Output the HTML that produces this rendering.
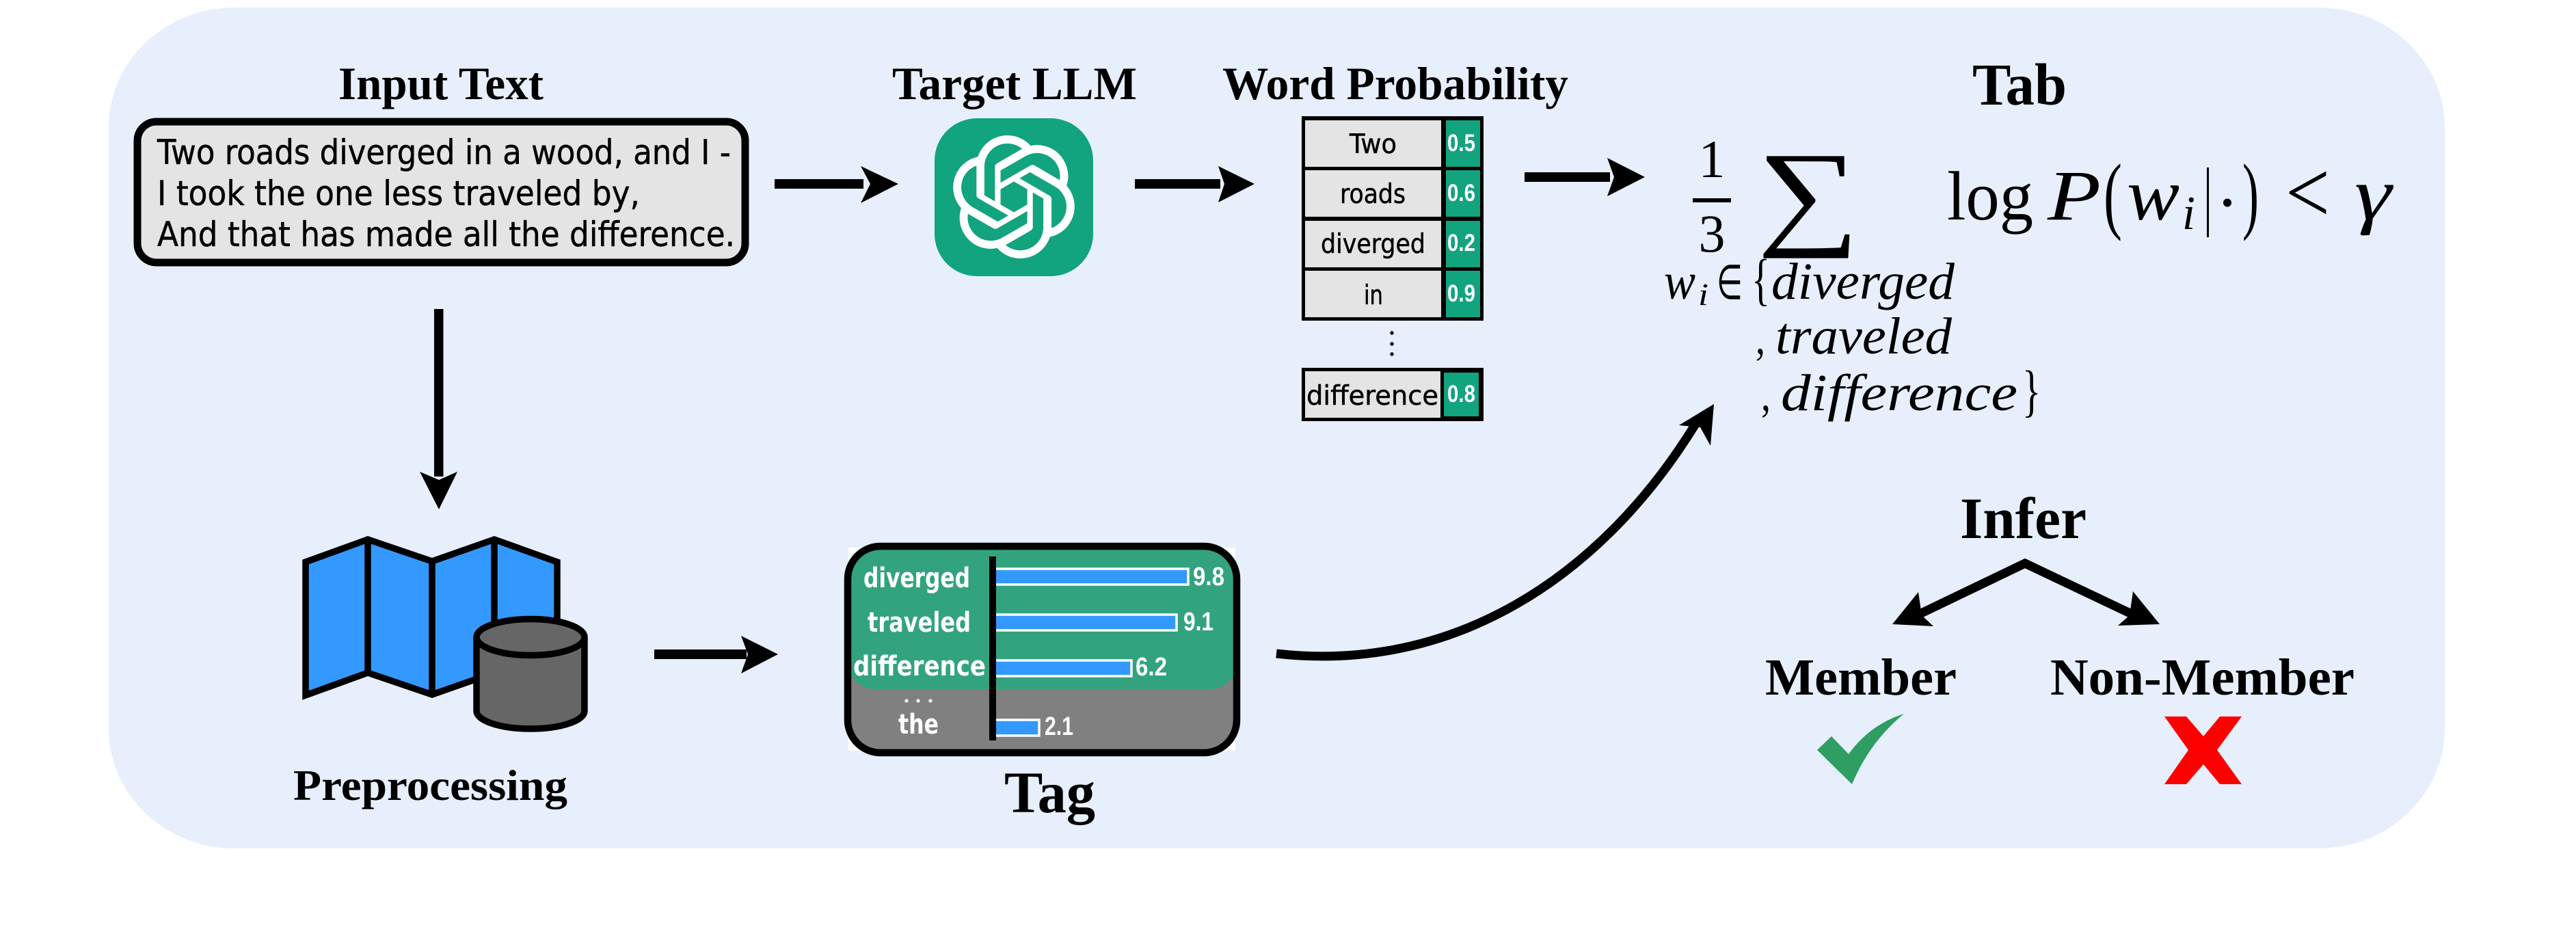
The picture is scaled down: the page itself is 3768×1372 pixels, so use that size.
<!DOCTYPE html>
<html><head><meta charset="utf-8"><style>
html,body{margin:0;padding:0;background:#fff}
svg{display:block}
.t{font-family:"Liberation Serif",serif;font-weight:bold;fill:#000}
.c{font-family:"DejaVu Sans","Liberation Sans",sans-serif;fill:#000;stroke:#000;stroke-width:.5}
.w{font-family:"DejaVu Sans","Liberation Sans",sans-serif;fill:#fff;font-weight:bold}
.n{font-family:"Liberation Sans",sans-serif;fill:#fff;font-weight:bold}
.m{font-family:"Liberation Serif",serif;fill:#000}
.i{font-family:"Liberation Serif",serif;font-style:italic;fill:#000}
</style></head><body>
<svg xmlns="http://www.w3.org/2000/svg" width="3768" height="1372" viewBox="0 0 3768 1372">
<rect width="3768" height="1372" fill="#fff"/>
<rect x="159" y="11" width="3417" height="1230" rx="185" ry="175" fill="#e6effb"/>

<text class="t" x="495" y="145" font-size="68" textLength="300" lengthAdjust="spacingAndGlyphs">Input Text</text>
<text class="t" x="1305" y="145" font-size="68" textLength="358" lengthAdjust="spacingAndGlyphs">Target LLM</text>
<text class="t" x="1788" y="145" font-size="68" textLength="506" lengthAdjust="spacingAndGlyphs">Word Probability</text>
<text class="t" x="2885" y="153" font-size="87" textLength="138" lengthAdjust="spacingAndGlyphs">Tab</text>

<!-- input box -->
<rect x="201" y="178" width="889" height="206" rx="28" fill="#e4e4e4" stroke="#000" stroke-width="11"/>
<text class="c" x="230" y="240" font-size="50" textLength="839" lengthAdjust="spacingAndGlyphs">Two roads diverged in a wood, and I -</text>
<text class="c" x="230" y="300" font-size="50" textLength="706" lengthAdjust="spacingAndGlyphs">I took the one less traveled by,</text>
<text class="c" x="230" y="360" font-size="50" textLength="845" lengthAdjust="spacingAndGlyphs">And that has made all the difference.</text>

<!-- arrows -->
<rect x="1133" y="262" width="130" height="14" fill="#000"/>
<polygon points="1259,243 1314,269 1259,297 1273,269" fill="#000"/>
<rect x="1660" y="262" width="125" height="14" fill="#000"/>
<polygon points="1782,243 1835,269 1782,296 1791,269" fill="#000"/>
<rect x="2230" y="252" width="125" height="14" fill="#000"/>
<polygon points="2351,231 2406,259 2351,287 2361,259" fill="#000"/>
<rect x="635" y="452" width="13.5" height="245" fill="#000"/>
<polygon points="614,690 642,745 669,690 642,702" fill="#000"/>
<rect x="957" y="950" width="135" height="14" fill="#000"/>
<polygon points="1084,930 1138,957 1084,985 1094,957" fill="#000"/>

<!-- logo -->
<rect x="1367" y="173" width="232" height="231" rx="62" fill="#12a37f"/>
<path transform="translate(1393,198) scale(7.5)" fill="#fff" d="M22.2819 9.8211a5.9847 5.9847 0 0 0-.5157-4.9108 6.0462 6.0462 0 0 0-6.5098-2.9A6.0651 6.0651 0 0 0 4.9807 4.1818a5.9847 5.9847 0 0 0-3.9977 2.9 6.0462 6.0462 0 0 0 .7427 7.0966 5.98 5.98 0 0 0 .511 4.9107 6.051 6.051 0 0 0 6.5146 2.9001A5.9847 5.9847 0 0 0 13.2599 24a6.0557 6.0557 0 0 0 5.7718-4.2058 5.9894 5.9894 0 0 0 3.9977-2.9001 6.0557 6.0557 0 0 0-.7475-7.0729zm-9.022 12.6081a4.4755 4.4755 0 0 1-2.8764-1.0408l.1419-.0804 4.7783-2.7582a.7948.7948 0 0 0 .3927-.6813v-6.7369l2.02 1.1686a.071.071 0 0 1 .038.052v5.5826a4.504 4.504 0 0 1-4.4945 4.4944zm-9.6607-4.1254a4.4708 4.4708 0 0 1-.5346-3.0137l.142.0852 4.783 2.7582a.7712.7712 0 0 0 .7806 0l5.8428-3.3685v2.3324a.0804.0804 0 0 1-.0332.0615L9.74 19.9502a4.4992 4.4992 0 0 1-6.1408-1.6464zM2.3408 7.8956a4.485 4.485 0 0 1 2.3655-1.9728V11.6a.7664.7664 0 0 0 .3879.6765l5.8144 3.3543-2.0201 1.1685a.0757.0757 0 0 1-.071 0l-4.8303-2.7865A4.504 4.504 0 0 1 2.3408 7.872zm16.5963 3.8558L13.1038 8.364 15.1192 7.2a.0757.0757 0 0 1 .071 0l4.8303 2.7913a4.4944 4.4944 0 0 1-.6765 8.1042v-5.6772a.79.79 0 0 0-.407-.667zm2.0107-3.0231l-.142-.0852-4.7735-2.7818a.7759.7759 0 0 0-.7854 0L9.409 9.2297V6.8974a.0662.0662 0 0 1 .0284-.0615l4.8303-2.7866a4.4992 4.4992 0 0 1 6.6802 4.66zM8.3065 12.863l-2.02-1.1638a.0804.0804 0 0 1-.038-.0567V6.0742a4.4992 4.4992 0 0 1 7.3757-3.4537l-.142.0805L8.704 5.459a.7948.7948 0 0 0-.3927.6813zm1.0976-2.3654l2.602-1.4998 2.6069 1.4998v2.9994l-2.5974 1.4997-2.6067-1.4997Z"/>

<!-- word table -->
<rect x="1904" y="170" width="266" height="299" fill="#000"/>
<g fill="#e4e4e4">
<rect x="1909" y="176" width="199" height="68"/><rect x="1909" y="249" width="199" height="68"/>
<rect x="1909" y="323" width="199" height="68"/><rect x="1909" y="396" width="199" height="68"/>
</g>
<g fill="#12a37f">
<rect x="2115" y="176" width="50" height="68"/><rect x="2115" y="249" width="50" height="68"/>
<rect x="2115" y="323" width="50" height="68"/><rect x="2115" y="396" width="50" height="68"/>
</g>
<rect x="1904" y="538" width="266" height="78" fill="#000"/>
<rect x="1909" y="543" width="198" height="68" fill="#e4e4e4"/>
<rect x="2112" y="545" width="51" height="64" fill="#12a37f"/>
<text class="c" x="1974" y="224" font-size="39" textLength="69" lengthAdjust="spacingAndGlyphs">Two</text>
<text class="c" x="1960" y="297" font-size="39" textLength="96" lengthAdjust="spacingAndGlyphs">roads</text>
<text class="c" x="1932" y="370" font-size="39" textLength="153" lengthAdjust="spacingAndGlyphs">diverged</text>
<text class="c" x="1995" y="445" font-size="39" textLength="28" lengthAdjust="spacingAndGlyphs">in</text>
<text class="c" x="1911" y="592" font-size="39" textLength="193" lengthAdjust="spacingAndGlyphs">difference</text>
<text class="n" x="2117" y="221" font-size="35" textLength="41" lengthAdjust="spacingAndGlyphs">0.5</text>
<text class="n" x="2117" y="294" font-size="35" textLength="41" lengthAdjust="spacingAndGlyphs">0.6</text>
<text class="n" x="2117" y="367" font-size="35" textLength="41" lengthAdjust="spacingAndGlyphs">0.2</text>
<text class="n" x="2117" y="441" font-size="35" textLength="41" lengthAdjust="spacingAndGlyphs">0.9</text>
<text class="n" x="2117" y="588" font-size="35" textLength="41" lengthAdjust="spacingAndGlyphs">0.8</text>
<circle cx="2036" cy="487" r="2.7"/><circle cx="2036" cy="503" r="2.7"/><circle cx="2036" cy="518" r="2.7"/>

<!-- formula -->
<text class="m" x="2504" y="259" font-size="78" text-anchor="middle">1</text>
<rect x="2476" y="290" width="56" height="6" fill="#000"/>
<text class="m" x="2504" y="368" font-size="78" text-anchor="middle">3</text>
<text class="m" x="2570" y="341" font-size="172" textLength="150" lengthAdjust="spacingAndGlyphs">∑</text>
<text class="m" x="2848" y="321" font-size="102" textLength="126" lengthAdjust="spacingAndGlyphs">log</text>
<text class="i" x="2995" y="321" font-size="104" textLength="78" lengthAdjust="spacingAndGlyphs">P</text>
<text class="m" x="3077" y="326" font-size="125" textLength="27" lengthAdjust="spacingAndGlyphs">(</text>
<text class="i" x="3111" y="321" font-size="108" textLength="77" lengthAdjust="spacingAndGlyphs">w</text>
<text class="i" x="3192" y="335" font-size="70" textLength="19" lengthAdjust="spacingAndGlyphs">i</text>
<rect x="3228" y="245" width="3" height="102" fill="#000"/>
<circle cx="3258" cy="296.5" r="6"/>
<text class="m" x="3280" y="326" font-size="125" textLength="24" lengthAdjust="spacingAndGlyphs">)</text>
<text class="m" x="3343" y="325" font-size="130" textLength="65" lengthAdjust="spacingAndGlyphs">&lt;</text>
<text class="i" x="3444" y="321" font-size="110" textLength="54" lengthAdjust="spacingAndGlyphs">γ</text>

<text class="i" x="2434" y="437" font-size="76" textLength="46" lengthAdjust="spacingAndGlyphs">w</text>
<text class="i" x="2484" y="446" font-size="46" textLength="15" lengthAdjust="spacingAndGlyphs">i</text>
<text class="m" x="2511" y="437" font-size="70" textLength="38" lengthAdjust="spacingAndGlyphs">∈</text>
<text class="m" x="2562" y="437" font-size="84" textLength="27" lengthAdjust="spacingAndGlyphs">{</text>
<text class="i" x="2591" y="437" font-size="76" textLength="268" lengthAdjust="spacingAndGlyphs">diverged</text>
<text class="m" x="2568" y="517" font-size="70" textLength="14" lengthAdjust="spacingAndGlyphs">,</text>
<text class="i" x="2597" y="517" font-size="76" textLength="258" lengthAdjust="spacingAndGlyphs">traveled</text>
<text class="m" x="2576" y="600" font-size="70" textLength="14" lengthAdjust="spacingAndGlyphs">,</text>
<text class="i" x="2605" y="600" font-size="76" textLength="346" lengthAdjust="spacingAndGlyphs">difference</text>
<text class="m" x="2958" y="600" font-size="84" textLength="27" lengthAdjust="spacingAndGlyphs">}</text>

<!-- curved arrow -->
<path d="M1867 956 C2120 985 2340 850 2482 617" fill="none" stroke="#000" stroke-width="13"/>
<polygon points="2507,591 2456,622 2487,625 2502,652" fill="#000"/>

<!-- map -->
<polygon points="447,822 538,789 632,821 723,789 815,822 815,1017 723,984 632,1016 538,984 447,1017" fill="#3399ff" stroke="#000" stroke-width="9.5" stroke-linejoin="miter"/>
<path d="M538 789V984M632 821V1016M723 789V984" stroke="#000" stroke-width="9.5" fill="none"/>
<path d="M697 932 V1040 A79 26 0 0 0 855 1040 V932 A79 26.5 0 0 0 697 932 Z" fill="#666" stroke="#000" stroke-width="9.5"/>
<path d="M697 932 A79 26.5 0 0 0 855 932" fill="none" stroke="#000" stroke-width="9.5"/>
<text class="t" x="429" y="1170" font-size="64" textLength="401" lengthAdjust="spacingAndGlyphs">Preprocessing</text>

<!-- tag box -->
<rect x="1241" y="801" width="566" height="297" fill="#fff"/>
<clipPath id="cb"><rect x="1240" y="800" width="570" height="296" rx="46"/></clipPath>
<g clip-path="url(#cb)">
<rect x="1240" y="800" width="570" height="296" fill="#808080"/>
<rect x="1240" y="780" width="570" height="228" rx="40" fill="#33a37f"/>
</g>
<rect x="1240" y="799" width="569" height="302" rx="48" fill="none" stroke="#000" stroke-width="10.5"/>
<g fill="#3399ff" stroke="#fff" stroke-width="3.5">
<rect x="1450" y="832" width="288" height="23"/>
<rect x="1450" y="899" width="271" height="23"/>
<rect x="1450" y="966" width="205" height="23"/>
<rect x="1450" y="1053" width="70" height="23"/>
</g>
<rect x="1447" y="814" width="10" height="269" fill="#000"/>
<text class="n" x="1745" y="856" font-size="38" textLength="46" lengthAdjust="spacingAndGlyphs">9.8</text>
<text class="n" x="1731" y="922" font-size="38" textLength="44" lengthAdjust="spacingAndGlyphs">9.1</text>
<text class="n" x="1661" y="988" font-size="38" textLength="46" lengthAdjust="spacingAndGlyphs">6.2</text>
<text class="n" x="1528" y="1075" font-size="38" textLength="42" lengthAdjust="spacingAndGlyphs">2.1</text>
<text class="w" x="1263" y="859" font-size="40" textLength="156" lengthAdjust="spacingAndGlyphs">diverged</text>
<text class="w" x="1269" y="924" font-size="40" textLength="151" lengthAdjust="spacingAndGlyphs">traveled</text>
<text class="w" x="1248" y="988" font-size="40" textLength="194" lengthAdjust="spacingAndGlyphs">difference</text>
<text class="w" x="1314" y="1073" font-size="40" textLength="59" lengthAdjust="spacingAndGlyphs">the</text>
<circle cx="1326" cy="1025" r="2.6" fill="#fff"/><circle cx="1343" cy="1025" r="2.6" fill="#fff"/><circle cx="1361" cy="1025" r="2.6" fill="#fff"/>
<text class="t" x="1469" y="1188" font-size="86" textLength="133" lengthAdjust="spacingAndGlyphs">Tag</text>

<!-- infer -->
<text class="t" x="2867" y="787" font-size="86" textLength="185" lengthAdjust="spacingAndGlyphs">Infer</text>
<polyline points="2806,899 2962,824 3120,899" fill="none" stroke="#000" stroke-width="13" stroke-linejoin="miter"/>
<polygon points="2768,913 2806,866 2811,900 2828,916" fill="#000"/>
<polygon points="3159,913 3120,865 3115,900 3098,915" fill="#000"/>
<text class="t" x="2582" y="1016" font-size="76" textLength="280" lengthAdjust="spacingAndGlyphs">Member</text>
<text class="t" x="2999" y="1016" font-size="76" textLength="445" lengthAdjust="spacingAndGlyphs">Non-Member</text>
<path d="M2679 1077 L2704 1103 Q2735 1060 2785 1044 Q2735 1085 2709 1147 L2658 1097 Z" fill="#2e9e62"/>
<polygon points="3166,1048 3198,1048 3223,1077 3247,1048 3279,1048 3243,1097 3279,1147 3247,1147 3223,1118 3198,1147 3166,1147 3201,1097" fill="#f00"/>
</svg>
</body></html>
